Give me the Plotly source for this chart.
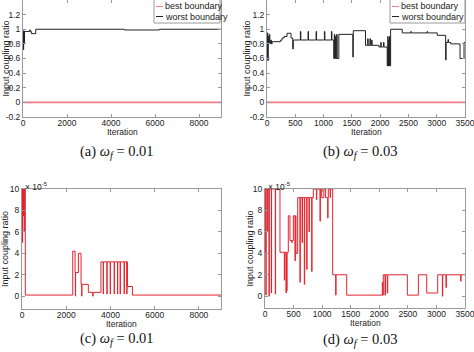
import plotly.graph_objects as go

W, H = 474, 352

# ---------------- data ----------------
# (a) omega_f = 0.01, top: worst/best boundary
a_worst_x = [0, 10, 20, 30, 40, 50, 60, 70, 90, 300, 330, 380, 540, 580, 4600, 6200, 9000]
a_worst_y = [0.75, 0.95, 0.72, 0.98, 0.85, 0.97, 0.80, 0.97, 0.97, 0.99, 0.97, 0.94, 0.94, 1.0, 0.99, 1.0, 1.0]
a_best_x = [0, 9000]
a_best_y = [0, 0]

# (b) omega_f = 0.03, top
b_worst_x = [0, 8, 15, 22, 30, 40, 50, 60, 80, 90, 118, 236, 265, 300, 354, 425, 455, 465,
             590, 598, 726, 734, 868, 876, 1015, 1023, 1139, 1147,
             1180, 1190, 1198, 1210, 1220, 1232, 1240, 1270, 1517, 1525,
             1741, 1780, 1788, 1820, 1828, 1850, 1858, 1978, 2010, 2018, 2060, 2068,
             2125, 2135, 2142, 2150, 2158, 2165, 2172, 2185, 2390,
             2540, 2548, 2830, 2838, 3010, 3158, 3166, 3200, 3208, 3247, 3412, 3483, 3500]
b_worst_y = [0.6, 0.95, 0.57, 0.9, 0.8, 0.93, 0.8, 0.85, 0.8, 0.83, 0.83, 0.85, 0.88, 0.9, 0.945, 0.88, 0.73, 0.853,
             0.97, 0.853, 0.97, 0.853, 0.97, 0.853, 0.97, 0.853, 0.97, 0.853,
             0.6, 0.93, 0.6, 0.9, 0.6, 0.93, 0.6, 0.93, 0.62, 0.98,
             0.78, 0.87, 0.78, 0.87, 0.78, 0.85, 0.78, 0.757, 0.82, 0.757, 0.82, 0.757,
             0.5, 0.9, 0.5, 0.85, 0.5, 0.9, 0.5, 1.0, 0.95,
             0.97, 0.95, 0.97, 0.95, 0.917, 0.58, 0.82, 0.86, 0.82, 0.80, 0.6, 0.82, 0.82]
b_best_x = [0, 3500]
b_best_y = [0, 0]

# (c) omega_f = 0.01, best boundary (x 1e-5)
c_x = [0, 20, 28, 60, 68, 100, 108, 150, 2295, 2400, 2415, 2425, 2550, 2670, 2700, 2710,
       3000, 3200, 3215, 3570,
       3675, 3685, 3840, 3850, 3990, 4000, 4170, 4180, 4320, 4330, 4440, 4450, 4620, 4630,
       4740, 4750, 4770, 4995, 9000]
c_y = [10, 5, 10, 7.5, 10, 6, 10, 0.1, 4.2, 2.2, 0, 2.2, 4.0, 1.1, 0, 1.1,
       0.35, 0, 0.35, 3.2,
       0.2, 3.2, 0.2, 3.2, 0.2, 3.2, 0.2, 3.2, 0.2, 3.2, 0.2, 3.2, 0.2, 3.2,
       0.2, 3.2, 0.9, 0.1, 0.1]

# (d) omega_f = 0.03, best boundary (x 1e-5)
d_x = [0, 5, 15, 20, 45, 50, 70, 75, 110, 115, 140, 180, 185, 240, 262,
       338, 345, 368, 374, 380, 386, 408, 437, 470, 476, 496, 525, 531, 542, 572,
       612, 618, 650, 656, 688, 694, 730, 736, 770, 776, 817, 823, 846,
       900, 906, 963, 969, 992, 1030, 1060, 1097, 1103, 1108, 1140, 1146, 1184,
       1237, 1243, 1430, 2053, 2060, 2070, 2100, 2108, 2140, 2148, 2491, 2684, 2830, 3022,
       3104, 3110, 3168, 3174, 3425, 3431, 3500]
d_y = [4, 10, 0.1, 10, 6, 10, 0, 10, 0.3, 10, 10, 0.2, 10, 10, 4.1,
       1.5, 4.1, 0.3, 4.1, 0.5, 4.1, 7.5, 5.2, 5.0, 5.2, 7.5, 3.3, 7.5, 4.0, 9.2,
       1.3, 9.2, 5.0, 9.2, 1.1, 9.2, 2.5, 9.2, 6.0, 9.2, 2.3, 9.2, 10,
       9.0, 10, 7.0, 10, 9.2, 10, 9.2, 7.3, 9.2, 10, 9.2, 10, 2.0,
       0.1, 2.0, 0.1, 1.3, 0.1, 2.0, 0.1, 2.0, 0.3, 2.0, 0.1, 2.0, 0.3, 2.0,
       0.0, 2.0, 0.8, 2.0, 1.4, 2.0, 2.0]

top_yticks = [-0.2, 0, 0.2, 0.4, 0.6, 0.8, 1, 1.2]
top_yticktext = ["-0.2", "0", "0.2", "0.4", "0.6", "0.8", "1", "1.2"]
bot_yticks = [0, 2, 4, 6, 8, 10]
bot_yticktext = ["0", "2", "4", "6", "8", "10"]
x9000_ticks = [0, 2000, 4000, 6000, 8000]
x3500_ticks = [0, 500, 1000, 1500, 2000, 2500, 3000, 3500]

captions = ["(a) <i>ω<sub>f</sub></i> = 0.01", "(b) <i>ω<sub>f</sub></i> = 0.03",
            "(c) <i>ω<sub>f</sub></i> = 0.01", "(d) <i>ω<sub>f</sub></i> = 0.03"]
legend_labels = ["best boundary", "worst boundary"]

# ---------------- styling helpers ----------------
FONT = "Liberation Sans, Arial, sans-serif"
RED_TOP = "rgb(240,125,135)"
RED = "rgb(228,35,45)"
BLACK = "#222222"
FRAME = "#9a9a9a"


def px_x(p):
    return p / W


def px_y(p):
    return 1 - p / H


def axis(domain_px, rng, tickvals, ticktext, vertical=False):
    if vertical:
        dom = [px_y(domain_px[1]), px_y(domain_px[0])]
    else:
        dom = [px_x(domain_px[0]), px_x(domain_px[1])]
    d = dict(domain=dom, range=rng, tickvals=tickvals, ticktext=ticktext,
             ticks="inside", ticklen=3, tickcolor=FRAME, showline=True,
             mirror="ticks", linecolor=FRAME, linewidth=1, showgrid=False,
             zeroline=False, tickfont=dict(size=8.5, color=BLACK, family=FONT),
             ticklabeloverflow="allow", fixedrange=True, automargin=False)
    if not vertical:
        d["ticklabelstandoff"] = -2
    return d


fig = go.Figure()

panels = [
    ("x", "y", (23, 221), (0, 117)),
    ("x2", "y2", (267, 465), (0, 117)),
    ("x3", "y3", (22, 221), (189, 309)),
    ("x4", "y4", (265, 465), (189, 308)),
]

fig.add_trace(go.Scatter(x=a_best_x, y=a_best_y, mode="lines", line=dict(color=RED_TOP, width=1.8),
                         xaxis="x", yaxis="y", showlegend=False))
fig.add_trace(go.Scatter(x=a_worst_x, y=a_worst_y, mode="lines", line=dict(color=BLACK, width=1, shape="hv"),
                         xaxis="x", yaxis="y", showlegend=False))
fig.add_trace(go.Scatter(x=b_best_x, y=b_best_y, mode="lines", line=dict(color=RED_TOP, width=1.8),
                         xaxis="x2", yaxis="y2", showlegend=False))
fig.add_trace(go.Scatter(x=b_worst_x, y=b_worst_y, mode="lines", line=dict(color=BLACK, width=1, shape="hv"),
                         xaxis="x2", yaxis="y2", showlegend=False))
fig.add_trace(go.Scatter(x=c_x, y=c_y, mode="lines", line=dict(color=RED, width=1, shape="hv"),
                         xaxis="x3", yaxis="y3", showlegend=False))
fig.add_trace(go.Scatter(x=d_x, y=d_y, mode="lines", line=dict(color=RED, width=1, shape="hv"),
                         xaxis="x4", yaxis="y4", showlegend=False))

layout = dict(width=W, height=H, margin=dict(l=0, r=0, t=0, b=0),
              paper_bgcolor="white", plot_bgcolor="white", showlegend=False,
              font=dict(family=FONT, size=9, color=BLACK))

layout["xaxis"] = axis(panels[0][2], [0, 9000], x9000_ticks, [str(v) for v in x9000_ticks])
layout["yaxis"] = axis(panels[0][3], [-0.2, 1.4], top_yticks, top_yticktext, vertical=True)
layout["xaxis2"] = axis(panels[1][2], [0, 3500], x3500_ticks, [str(v) for v in x3500_ticks])
layout["yaxis2"] = axis(panels[1][3], [-0.2, 1.4], top_yticks, top_yticktext, vertical=True)
layout["xaxis3"] = axis(panels[2][2], [0, 9000], x9000_ticks, [str(v) for v in x9000_ticks])
layout["yaxis3"] = axis(panels[2][3], [-1.2, 10], bot_yticks, bot_yticktext, vertical=True)
layout["xaxis4"] = axis(panels[3][2], [0, 3500], x3500_ticks, [str(v) for v in x3500_ticks])
layout["yaxis4"] = axis(panels[3][3], [-1.1, 10], bot_yticks, bot_yticktext, vertical=True)
for n in ["", "2", "3", "4"]:
    layout["xaxis" + n]["anchor"] = "y" + n
    layout["yaxis" + n]["anchor"] = "x" + n

annotations = []
shapes = []

for (xa, ya, xd, yd), ytitle_x in zip(panels, [5, 246, 5, 249]):
    cx = (xd[0] + xd[1]) / 2
    annotations.append(dict(text="Iteration", xref="paper", yref="paper", x=px_x(cx),
                            y=px_y(yd[1] + 15), xanchor="center", yanchor="middle",
                            showarrow=False, font=dict(size=8.5, color=BLACK, family=FONT)))
    cy = (yd[0] + yd[1]) / 2
    annotations.append(dict(text="Input coupling ratio", xref="paper", yref="paper", x=px_x(ytitle_x),
                            y=px_y(cy), xanchor="center", yanchor="middle", textangle=-90,
                            showarrow=False, font=dict(size=9, color=BLACK, family=FONT)))

for xd, yd in [(panels[2][2], panels[2][3]), (panels[3][2], panels[3][3])]:
    annotations.append(dict(text="× 10<sup>-5</sup>", xref="paper", yref="paper", x=px_x(xd[0] + 1),
                            y=px_y(yd[0] - 3), xanchor="left", yanchor="middle",
                            showarrow=False, font=dict(size=8.5, color=BLACK, family=FONT)))

for cap, (cx, cy) in zip(captions, [(117, 152), (360, 152), (117, 339), (360, 340)]):
    annotations.append(dict(text=cap, xref="paper", yref="paper", x=px_x(cx), y=px_y(cy),
                            xanchor="center", yanchor="middle", showarrow=False,
                            font=dict(size=14.5, color="#111", family="Liberation Serif, Times New Roman, serif")))

for (bx0, bx1) in [(154, 220), (390, 465)]:
    shapes.append(dict(type="rect", xref="paper", yref="paper", x0=px_x(bx0), x1=px_x(bx1),
                       y0=px_y(23), y1=px_y(-1), line=dict(color=FRAME, width=1), fillcolor="white",
                       layer="above"))
    for lab, col, yy in zip(legend_labels, [RED_TOP, BLACK], [6.5, 16.5]):
        shapes.append(dict(type="line", xref="paper", yref="paper", x0=px_x(bx0 + 2), x1=px_x(bx0 + 9),
                           y0=px_y(yy), y1=px_y(yy), line=dict(color=col, width=1), layer="above"))
        annotations.append(dict(text=lab, xref="paper", yref="paper", x=px_x(bx0 + 9), y=px_y(yy),
                                xanchor="left", yanchor="middle", showarrow=False,
                                font=dict(size=9, color=BLACK, family=FONT)))

layout["annotations"] = annotations
layout["shapes"] = shapes
fig.update_layout(**layout)

fig.write_html("out.html")
